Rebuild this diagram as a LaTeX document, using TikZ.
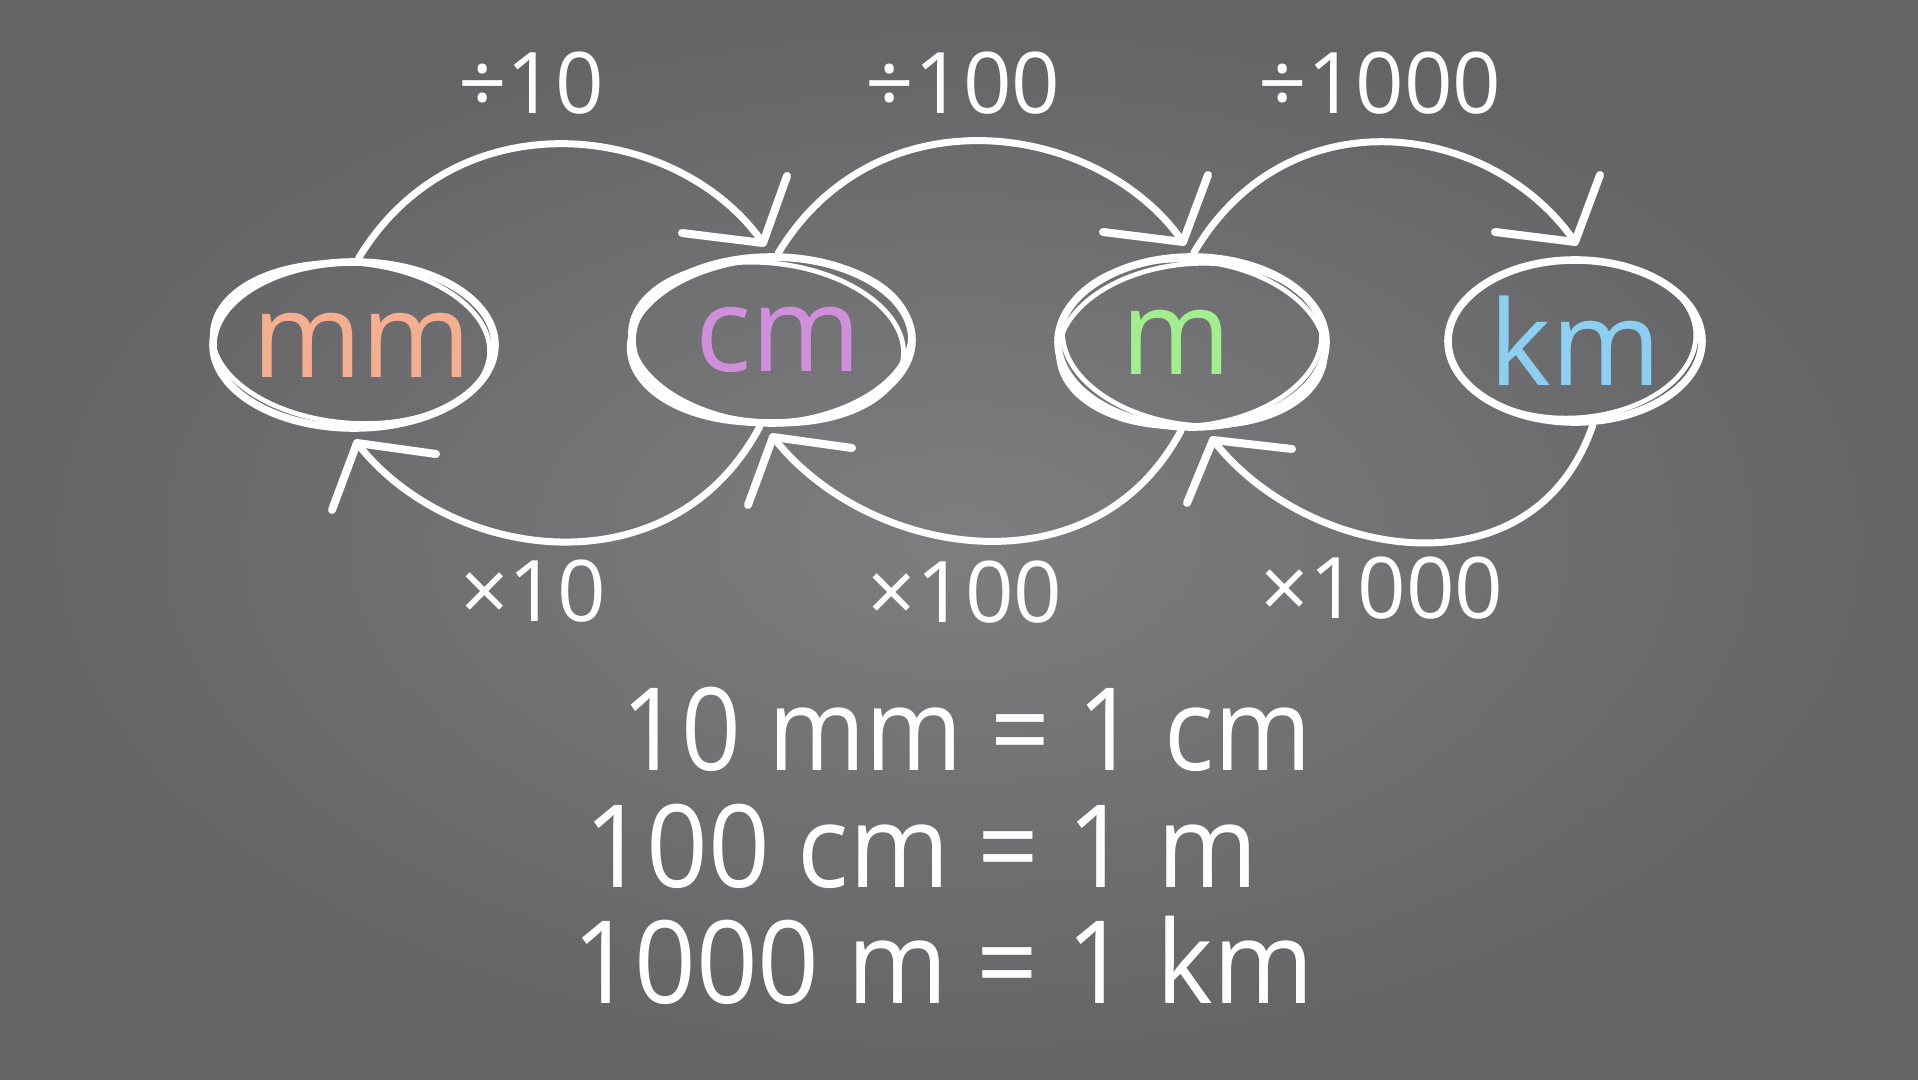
\documentclass[tikz,border=0pt]{standalone}
\usepackage{fontspec}
\setmainfont{Open Sans}
\usetikzlibrary{shapes.geometric,calc}
\definecolor{bgin}{HTML}{7E7E80}
\definecolor{bgout}{HTML}{646466}
\definecolor{colmm}{HTML}{F4AE90}
\definecolor{colcm}{HTML}{CF8FDA}
\definecolor{colme}{HTML}{A2EE8F}
\definecolor{colkm}{HTML}{8CCFF1}
\begin{document}
\begin{tikzpicture}[x=0.5pt,y=-0.5pt,
  unit/.style={ellipse, draw=white, line width=3.8pt, inner sep=0pt, font=\fontsize{59}{59}\selectfont},
  chalk/.style={draw=white, line width=3.5pt, line cap=round},
  barb/.style={draw=white, line width=4pt, line cap=round, line join=round},
  sketch/.style={draw=white, line width=2.4pt},
  oplabel/.style={text=white, font=\fontsize{42.5}{43}\selectfont, anchor=base, inner sep=0pt},
  eqline/.style={text=white, font=\fontsize{57.5}{58}\selectfont, anchor=base west, inner sep=0pt}]
\shade[inner color=bgin, outer color=bgout] (0,0) rectangle (1918,1080);
\useasboundingbox (0,0) rectangle (1918,1080);

% unit nodes
\node[unit, minimum width=141pt, minimum height=83pt, text=colmm] (mm) at (354,345) {\makebox[0pt]{mm\hspace{-8pt}}};
\node[unit, minimum width=140pt, minimum height=83pt, text=colcm] (cm) at (772,340) {\makebox[0pt]{cm\hspace{-6pt}}};
\node[unit, minimum width=134pt, minimum height=85pt, text=colme] (me) at (1192,342) {\makebox[0pt]{m\hspace{16pt}}};
\node[unit, minimum width=127pt, minimum height=81pt, text=colkm] (km) at (1575,341) {\makebox[0pt]{km}};

% hand-drawn extra strokes
\draw[sketch, rotate around={-5:(351,343)}] (351,343) ellipse [x radius=139, y radius=80];
\draw[sketch, rotate around={-6:(767,343)}] (767,343) ellipse [x radius=137, y radius=80];
\draw[sketch, rotate around={4:(770,341)}] (770,341) ellipse [x radius=141, y radius=82];
\draw[sketch, rotate around={-7:(1194,343)}] (1194,343) ellipse [x radius=132, y radius=82];
\draw[sketch, rotate around={6:(1190,345)}] (1190,345) ellipse [x radius=132, y radius=81];
\draw[sketch, rotate around={3:(1572,339)}] (1572,339) ellipse [x radius=124, y radius=79];

% arrow tips
\coordinate (t1) at (763,243);
\coordinate (t2) at (1183,242);
\coordinate (t3) at (1575,242);
\coordinate (u1) at (357,443);
\coordinate (u2) at (773,437);
\coordinate (u3) at (1213,440);

% top arcs (divide)
\draw[chalk] (mm.87) .. controls +(100,-165) and +(-83,-120) .. (t1);
\draw[chalk] (cm.86) .. controls +(100,-165) and +(-83,-120) .. (t2);
\draw[chalk] (me.89) .. controls +(95,-162) and +(-82,-120) .. (t3);
\draw[barb] (t1) ++(-81,-10) -- (t1) -- ++(24,-67);
\draw[barb] (t2) ++(-80,-10) -- (t2) -- ++(25,-67);
\draw[barb] (t3) ++(-80,-10) -- (t3) -- ++(25,-67);

% bottom arcs (multiply)
\draw[chalk] (cm.262) .. controls +(-89,167) and +(92,119) .. (u1);
\draw[chalk] (me.263) .. controls +(-89,167) and +(92,119) .. (u2);
\draw[chalk] (km.282) .. controls +(-60,175) and +(92,119) .. (u3);
\draw[barb] (u1) ++(-25,67) -- (u1) -- ++(79,11);
\draw[barb] (u2) ++(-25,68) -- (u2) -- ++(79,11);
\draw[barb] (u3) ++(-26,63) -- (u3) -- ++(79,9);

% operation labels
\node[oplabel] (d1) at (531,114) {÷10};
\node[oplabel] (d2) at (963,114) {÷100};
\node[oplabel] (d3) at (1380,114) {÷1000};
\node[oplabel] (x1) at (533,622) {×10};
\node[oplabel] (x2) at (965,623) {×100};
\node[oplabel] (x3) at (1382,618) {×1000};

% equations
\node[eqline] (e1) at (621,770) {\scalebox{0.91}[1]{10 mm = 1 cm}};
\node[eqline] (e2) at (584,887) {\scalebox{0.94}[1]{100 cm = 1 m}};
\node[eqline] (e3) at (572,1003) {\scalebox{0.94}[1]{1000 m = 1 km}};
\end{tikzpicture}
\end{document}
